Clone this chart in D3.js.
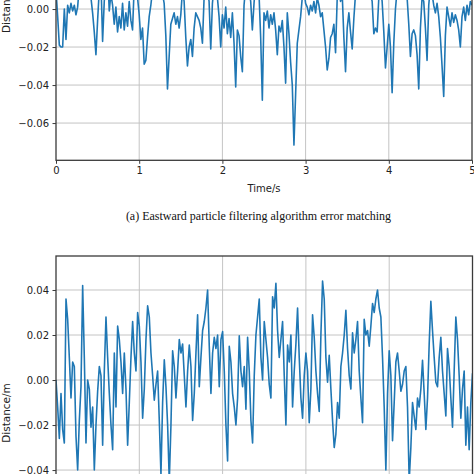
<!DOCTYPE html>
<html>
<head>
<meta charset="utf-8">
<script src="https://cdn.jsdelivr.net/npm/d3@7"></script>
<style>
  html, body { margin: 0; padding: 0; background: #fff; }
  svg { display: block; }
  .tick text { font-family: "DejaVu Sans", sans-serif; font-size: 10px; fill: #222; }
</style>
</head>
<body>
<svg id="chart" width="474" height="474"></svg>
<script>
// ---------- data ----------
const timeStep = 0.02;           // seconds between samples
const xTicks = [0, 1, 2, 3, 4, 5];
const yTicksTop = [-0.06, -0.04, -0.02, 0.00];
const yTicksBottom = [-0.04, -0.02, 0.00, 0.02, 0.04];

// (a) Eastward error, metres
const eastError = [
  0.010, -0.004, -0.019, -0.020, -0.020, 0.000, -0.016, 0.002, -0.002, 0.003,
  -0.001, 0.002, -0.003, 0.001, 0.012, 0.020, 0.015, 0.022, 0.010, 0.018,
  0.008, 0.006, -0.002, -0.012, -0.024, -0.006, 0.010, 0.015, -0.017, 0.004,
  0.015, 0.020, -0.001, 0.008, 0.002, -0.008, 0.001, -0.012, -0.004, -0.010,
  0.003, -0.011, -0.002, -0.009, 0.004, -0.006, -0.011, 0.012, 0.018, 0.006,
  -0.003, -0.016, -0.010, -0.029, -0.027, -0.015, -0.004, 0.002, 0.010, 0.016,
  0.012, 0.020, 0.010, 0.015, 0.008, 0.003, -0.014, -0.042, -0.025, -0.008,
  -0.005, -0.002, -0.008, -0.004, -0.010, -0.003, 0.010, 0.004, -0.015, -0.030,
  -0.020, -0.016, -0.025, -0.010, -0.002, -0.004, -0.006, -0.010, -0.018, 0.006,
  0.015, 0.010, 0.004, -0.021, 0.003, 0.012, 0.018, 0.006, -0.004, -0.020,
  -0.003, -0.010, 0.001, -0.013, -0.005, -0.015, -0.002, -0.018, -0.041, -0.011,
  -0.014, -0.025, -0.033, 0.002, 0.012, 0.020, 0.010, 0.004, -0.011, 0.003,
  0.014, 0.020, 0.008, -0.015, -0.048, -0.002, -0.006, -0.001, -0.010, -0.003,
  -0.008, -0.002, -0.011, -0.024, -0.009, -0.012, -0.006, -0.020, -0.039, -0.002,
  -0.013, -0.028, -0.040, -0.0716, -0.045, -0.018, -0.011, -0.004, 0.006, 0.010,
  0.003, 0.001, -0.003, 0.002, -0.001, 0.004, -0.002, 0.006, 0.002, -0.004,
  -0.002, -0.011, -0.020, -0.032, -0.026, -0.015, -0.013, -0.008, -0.023, 0.006,
  0.012, 0.004, 0.008, -0.015, -0.033, -0.010, -0.002, -0.012, -0.021, -0.005,
  0.008, 0.015, 0.020, 0.012, 0.018, 0.010, 0.016, 0.022, 0.012, 0.008,
  0.004, -0.013, -0.010, -0.012, 0.006, 0.012, 0.004, -0.012, -0.031, -0.020,
  -0.008, -0.020, -0.044, -0.018, 0.000, 0.010, 0.018, 0.012, 0.020, 0.008,
  0.015, 0.006, -0.008, -0.025, -0.013, -0.011, -0.014, -0.024, -0.042, -0.010,
  0.006, 0.004, -0.010, -0.027, 0.002, 0.012, 0.008, 0.002, -0.002, 0.003,
  -0.004, -0.015, -0.030, -0.046, -0.014, 0.001, -0.004, -0.009, -0.002, -0.007,
  -0.003, -0.006, -0.011, -0.020, -0.004, 0.001, -0.006, 0.002, -0.003, 0.004,
  0.002
];

// (b) second direction error, metres
const northError = [
  0.000, -0.012, -0.026, -0.006, -0.022, -0.028, 0.036, 0.027, 0.010, -0.008,
  0.008, 0.006, -0.025, -0.040, -0.018, -0.003, 0.042, 0.010, -0.028, 0.000,
  -0.004, -0.021, -0.012, -0.040, -0.020, -0.005, 0.006, 0.002, -0.029, 0.004,
  0.028, 0.010, -0.006, -0.020, -0.031, 0.012, -0.012, 0.024, 0.018, 0.008,
  -0.006, 0.012, -0.004, -0.029, -0.010, 0.010, 0.026, 0.012, 0.004, 0.030,
  0.024, 0.008, -0.017, -0.004, 0.018, 0.033, 0.028, 0.012, 0.002, -0.009,
  -0.002, 0.004, -0.018, -0.042, -0.010, 0.009, -0.003, -0.020, -0.045, -0.020,
  0.013, 0.006, -0.008, 0.004, 0.018, 0.012, 0.016, 0.002, -0.012, 0.004,
  0.0155, 0.006, -0.018, -0.006, 0.012, 0.029, -0.003, 0.010, 0.022, 0.026,
  0.032, 0.040, 0.015, -0.006, 0.012, 0.019, 0.014, 0.020, -0.003, 0.018,
  0.0215, 0.004, -0.020, -0.036, 0.015, 0.008, -0.006, -0.012, -0.020, -0.008,
  0.0196, 0.004, -0.003, 0.006, -0.013, 0.019, 0.004, -0.018, -0.028, 0.002,
  0.020, 0.028, 0.036, 0.010, 0.000, 0.026, 0.018, 0.010, -0.002, -0.008,
  0.037, 0.032, 0.043, 0.022, 0.010, 0.018, 0.026, 0.002, -0.020, 0.0155,
  0.008, 0.020, -0.012, 0.004, 0.016, 0.032, 0.010, -0.008, -0.017, 0.002,
  0.012, 0.004, -0.019, -0.004, 0.029, 0.019, 0.004, -0.006, -0.014, 0.020,
  0.044, 0.036, 0.010, -0.001, 0.011, -0.004, -0.018, -0.030, -0.024, -0.010,
  -0.017, 0.006, 0.012, 0.020, 0.031, 0.014, 0.002, -0.004, 0.021, 0.012,
  0.018, 0.026, 0.004, -0.008, -0.019, 0.027, 0.020, 0.022, 0.015, 0.024,
  0.034, 0.030, 0.036, 0.040, 0.032, 0.028, 0.010, -0.012, -0.040, -0.006,
  0.013, 0.002, -0.027, -0.010, 0.008, 0.012, 0.004, -0.005, -0.002, 0.004,
  0.006, -0.012, -0.045, -0.030, -0.010, -0.016, -0.022, -0.008, -0.012, -0.004,
  0.0088, -0.006, -0.022, -0.008, 0.016, 0.035, 0.022, 0.010, -0.001, -0.003,
  0.010, 0.019, 0.004, -0.006, -0.016, 0.014, 0.006, -0.008, -0.021, 0.004,
  0.028, 0.018, 0.002, -0.017, -0.004, 0.004, -0.029, -0.012, -0.031, -0.010,
  0.003
];

const xLabel = "Time/s";
const yLabel = "Distance/m";
const captionTop = "(a) Eastward particle filtering algorithm error matching";

// ---------- drawing ----------
const svg = d3.select("#chart");
const lineColor = "#1f77b4";
const gridColor = "#c4c4c4";
const spineColor = "#3a3a3a";
const fmt = d3.format(".2f");

function panel(opts) {
  const { id, data, left, right, top, bottom, yDomain, yTicks, showXAxis } = opts;
  const x = d3.scaleLinear().domain([0, 5]).range([left, right]);
  const y = d3.scaleLinear().domain(yDomain).range([bottom, top]);
  const g = svg.append("g");

  g.append("clipPath").attr("id", "clip-" + id)
    .append("rect").attr("x", left).attr("y", top)
    .attr("width", right - left).attr("height", bottom - top);

  // grid
  g.append("g").selectAll("line").data(xTicks.filter(t => t > 0 && t < 5)).join("line")
    .attr("x1", d => x(d)).attr("x2", d => x(d))
    .attr("y1", top).attr("y2", bottom)
    .attr("stroke", gridColor).attr("stroke-width", 1);
  g.append("g").selectAll("line").data(yTicks).join("line")
    .attr("x1", left).attr("x2", right)
    .attr("y1", d => y(d)).attr("y2", d => y(d))
    .attr("stroke", gridColor).attr("stroke-width", 1);

  // data line
  const line = d3.line()
    .x((d, i) => x(i * timeStep))
    .y(d => y(d));
  g.append("path").datum(data)
    .attr("clip-path", `url(#clip-${id})`)
    .attr("fill", "none").attr("stroke", lineColor)
    .attr("stroke-width", 1.6).attr("stroke-linejoin", "round")
    .attr("d", line);

  // y axis
  const yAxis = g.append("g").attr("transform", `translate(${left},0)`)
    .call(d3.axisLeft(y).tickValues(yTicks).tickFormat(fmt).tickSize(3.5).tickPadding(3.5));
  yAxis.select(".domain").remove();
  yAxis.selectAll(".tick line").attr("stroke", spineColor).attr("stroke-width", 1);

  // x axis (only where it is in view)
  if (showXAxis) {
    const xAxis = g.append("g").attr("transform", `translate(0,${bottom})`)
      .call(d3.axisBottom(x).tickValues(xTicks).tickFormat(d3.format("d")).tickSize(3.5).tickPadding(3.5));
    xAxis.select(".domain").remove();
    xAxis.selectAll(".tick line").attr("stroke", spineColor).attr("stroke-width", 1);
    g.append("text")
      .attr("x", (left + right) / 2).attr("y", bottom + 31.5)
      .attr("text-anchor", "middle")
      .attr("font-family", "DejaVu Sans, sans-serif").attr("font-size", 10)
      .attr("fill", "#222")
      .text(xLabel);
  }

  // frame
  g.append("rect").attr("x", left).attr("y", top)
    .attr("width", right - left).attr("height", bottom - top)
    .attr("fill", "none").attr("stroke", spineColor).attr("stroke-width", 1.3);

  // y label
  g.append("text")
    .attr("transform", `translate(10,${(top + bottom) / 2}) rotate(-90)`)
    .attr("text-anchor", "middle")
    .attr("font-family", "DejaVu Sans, sans-serif").attr("font-size", 10.5)
    .attr("fill", "#222")
    .text(yLabel);

  return { x, y };
}

panel({
  id: "top", data: eastError, left: 56, right: 472, top: -154, bottom: 160.3,
  yDomain: [-0.0796, 0.0858], yTicks: yTicksTop, showXAxis: true
});

svg.append("text")
  .attr("x", 258.5).attr("y", 219.5)
  .attr("text-anchor", "middle")
  .attr("font-family", "Liberation Serif, Times New Roman, serif")
  .attr("font-size", 12)
  .attr("fill", "#111")
  .text(captionTop);

panel({
  id: "bottom", data: northError, left: 56, right: 472.5, top: 256, bottom: 570,
  yDomain: [-0.0844, 0.0551], yTicks: yTicksBottom, showXAxis: false
});
</script>
</body>
</html>
